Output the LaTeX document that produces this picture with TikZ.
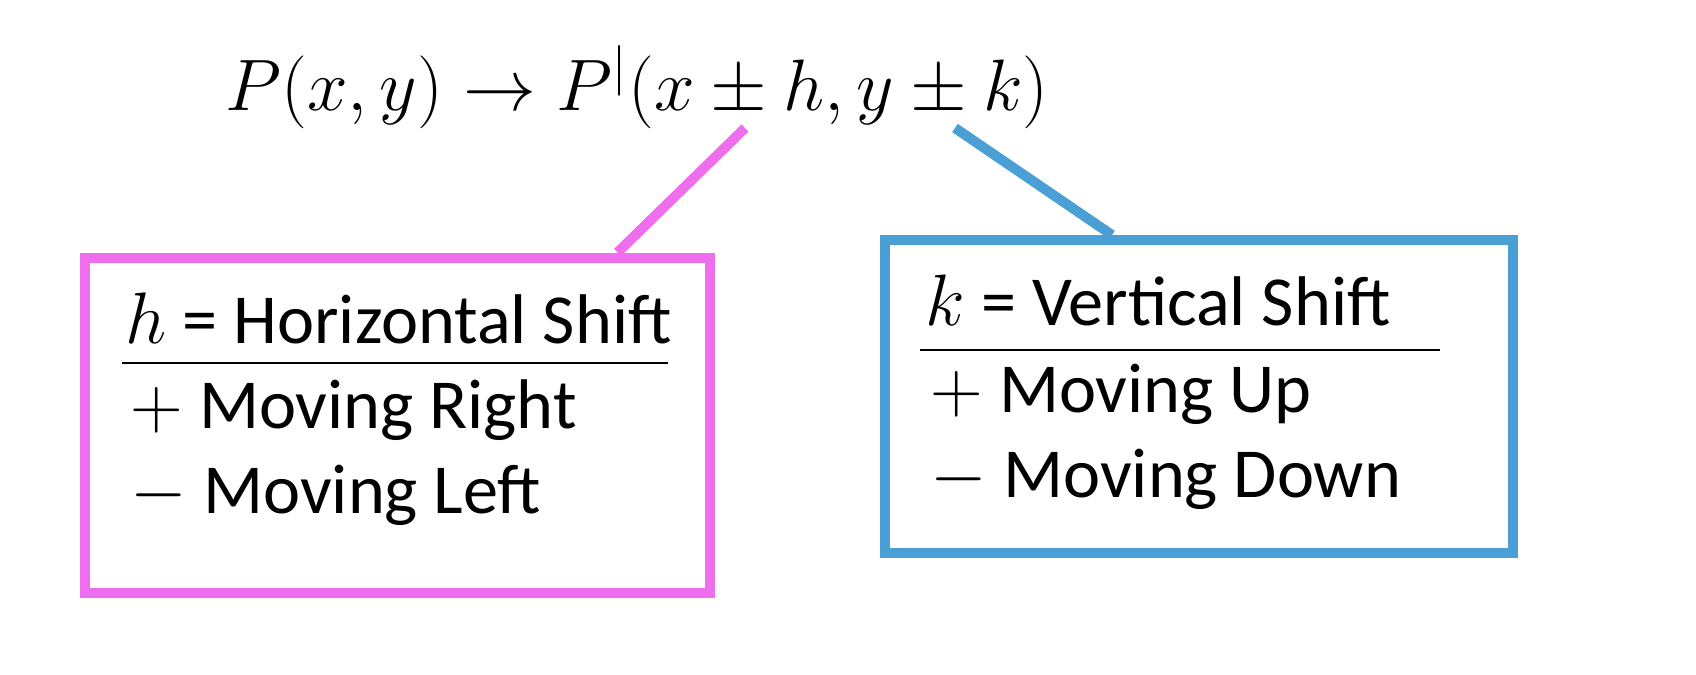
\documentclass[tikz,border=0pt]{standalone}
\usepackage{fontspec}
\setmainfont{Carlito}
\definecolor{pinkish}{HTML}{EE6EEE}
\definecolor{bluish}{HTML}{4A9FD4}
\tikzset{
    shiftbox/.style={draw,line width=1mm,minimum width=6.25cm,minimum height=3.35cm},
    txt/.style={anchor=base west,inner sep=0pt,font=\fontsize{20}{24}\selectfont}
}
\begin{document}
\begin{tikzpicture}
    \useasboundingbox (0,0) rectangle (16.96,6.74);
    \node [anchor=base west,inner sep=0pt,font=\fontsize{20.5}{24}\selectfont] (formula) at (2.25,5.64)
        {$P(x,y)\rightarrow P^{|}(x\pm h,y\pm k)$};
    % boxes
    \node [shiftbox,pinkish] (hbox) at (3.975,2.49) {};
    \node [shiftbox,bluish,minimum width=6.28cm,minimum height=3.13cm] (kbox) at (11.99,2.775) {};
    \coordinate (hTop) at (7.45,5.46);
    \coordinate (kTop) at (9.55,5.46);
    \draw [pinkish,line width=1mm] (hTop) -- ([xshift=2.2cm]hbox.north);
    \draw [bluish,line width=1mm] (kTop) -- ([xshift=-0.87cm]kbox.north);
    % horizontal
    \node [txt] (hTitle) at (1.25,3.31) {$h$ = Horizontal Shift};
    \coordinate (hL) at (1.22,3.11);
    \coordinate (hR) at (6.68,3.11);
    \draw [thick] (hL) -- (hR);
    \node [txt] (hPlus) at (1.3,2.46) {$+$ Moving Right};
    \node [txt] (hMinus) at (1.3,1.61) {$-$ Moving Left};
    % vertical
    \node [txt] (kTitle) at (9.25,3.49) {$k$ = Vertical Shift};
    \coordinate (kL) at (9.2,3.24);
    \coordinate (kR) at (14.4,3.24);
    \draw [thick] (kL) -- (kR);
    \node [txt] (kPlus) at (9.3,2.62) {$+$ Moving Up};
    \node [txt] (kMinus) at (9.3,1.77) {$-$ Moving Down};
\end{tikzpicture}
\end{document}
